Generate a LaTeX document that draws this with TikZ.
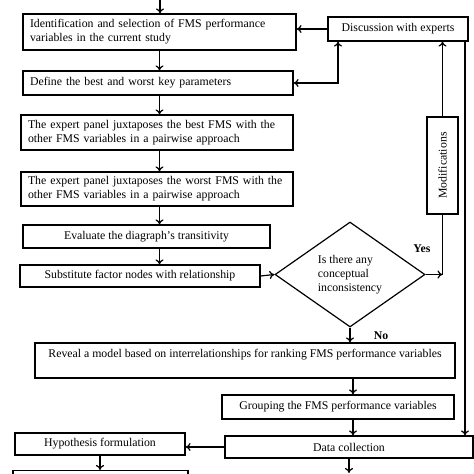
\documentclass[tikz,border=0pt]{standalone}
\usepackage{fontspec}
\setmainfont{Liberation Serif}
\usetikzlibrary{shapes.geometric,arrows.meta}
\newcommand\fsz{\fontsize{11.8}{14}\selectfont}
\tikzset{
  blk/.style={draw,line width=1.2pt,rectangle,inner xsep=7pt,inner ysep=0pt,font=\fsz},
  arr/.style={-{To[length=5pt,width=8pt]},line width=1.2pt},
  link/.style={line width=1.2pt},
}
\begin{document}
\begin{tikzpicture}[x=1pt,y=-1pt]
\clip (0,0) rectangle (474,474);
\node[blk,minimum height=36,text width=259,align=left] (ident) at (159.5,32)
  {\makebox[259pt][s]{Identification and selection of FMS performance}\\variables in the current study};
\node[blk,minimum width=140,minimum height=24] (disc) at (398,29) {Discussion with experts};
\node[blk,minimum height=24,text width=256,align=left] (def) at (158,83) {Define the best and worst key parameters};
\node[blk,minimum height=35,text width=258,align=left] (best) at (157,132.5)
  {The expert panel juxtaposes the best FMS with the\\other FMS variables in a pairwise approach};
\node[blk,minimum height=34,text width=258,align=left] (worst) at (157,189)
  {The expert panel juxtaposes the worst FMS with the\\other FMS variables in a pairwise approach};
\node[blk,minimum width=247,minimum height=23] (trans) at (146.5,236.5) {Evaluate the diagraph's transitivity};
\node[blk,minimum width=240,minimum height=22] (subst) at (140,276) {Substitute factor nodes with relationship};
\node[draw,diamond,aspect=1.43,minimum width=150,minimum height=105,inner sep=0pt,
  line width=1.2pt,align=left,font=\fsz] (dia) at (350,274.5) {Is there any\\conceptual\\inconsistency};
\node[blk,rotate=90,minimum width=97,minimum height=31,inner xsep=0pt] (mod) at (442.5,165.5) {Modifications};
\node[blk,minimum width=420,minimum height=35,align=center] (reveal) at (245,360.5)
  {Reveal a model based on interrelationships for ranking FMS performance variables\\\mbox{}};
\node[blk,minimum width=232,minimum height=24] (group) at (338,407) {Grouping the FMS performance variables};
\node[blk,minimum width=248,minimum height=22] (data) at (349,447) {Data collection};
\node[blk,minimum width=170,minimum height=22] (hyp) at (100,444) {Hypothesis formulation};
\node[blk,minimum width=175,minimum height=20,anchor=north] (next) at (100.5,470) {};
\node[font=\fsz\bfseries] (yes) at (422,249) {Yes};
\node[font=\fsz\bfseries] (no) at (381,336) {No};

\coordinate (in) at (160,0);
\coordinate (dcorner) at (338,83);
\coordinate (rside) at (465,0);
\coordinate (mid) at (353,0);
\coordinate (bot) at (0,473);
\coordinate (yesend) at (mod.west |- dia.east);

\draw[arr] (in) -- (in |- ident.north);
\draw[arr] (disc.west) -- (disc.west -| ident.east);
\draw[arr] (ident.south) -- (ident.south |- def.north);
\draw[{To[length=5pt,width=8pt]}-{To[length=5pt,width=8pt]},line width=1.2pt]
  (def.east) -- (def.east -| dcorner) -- (dcorner |- disc.south);
\draw[arr] (def.south -| ident.south) -- (best.north -| ident.south);
\draw[arr] (best.south -| ident.south) -- (worst.north -| ident.south);
\draw[arr] (worst.south -| ident.south) -- (trans.north -| ident.south);
\draw[arr] (trans.south -| ident.south) -- (subst.north -| ident.south);
\draw[arr] (subst.east) -- (dia.west);
\draw[arr] (dia.east) -- (yesend);
\draw[link] (mod.west) -- (yesend);
\draw[arr] (mod.east) -- (mod.east |- disc.south);
\draw[arr] (disc.south -| rside) -- (data.north -| rside);
\draw[arr] (dia.south) -- (dia.south |- reveal.north);
\draw[arr] (reveal.south -| mid) -- (group.north -| mid);
\draw[arr] (group.south -| mid) -- (data.north -| mid);
\draw[arr] (data.west) -- (data.west -| hyp.east);
\draw[arr] (hyp.south) -- (hyp.south |- next.north);
\draw[arr] (data.south) -- (data.south |- bot);
\end{tikzpicture}
\end{document}
